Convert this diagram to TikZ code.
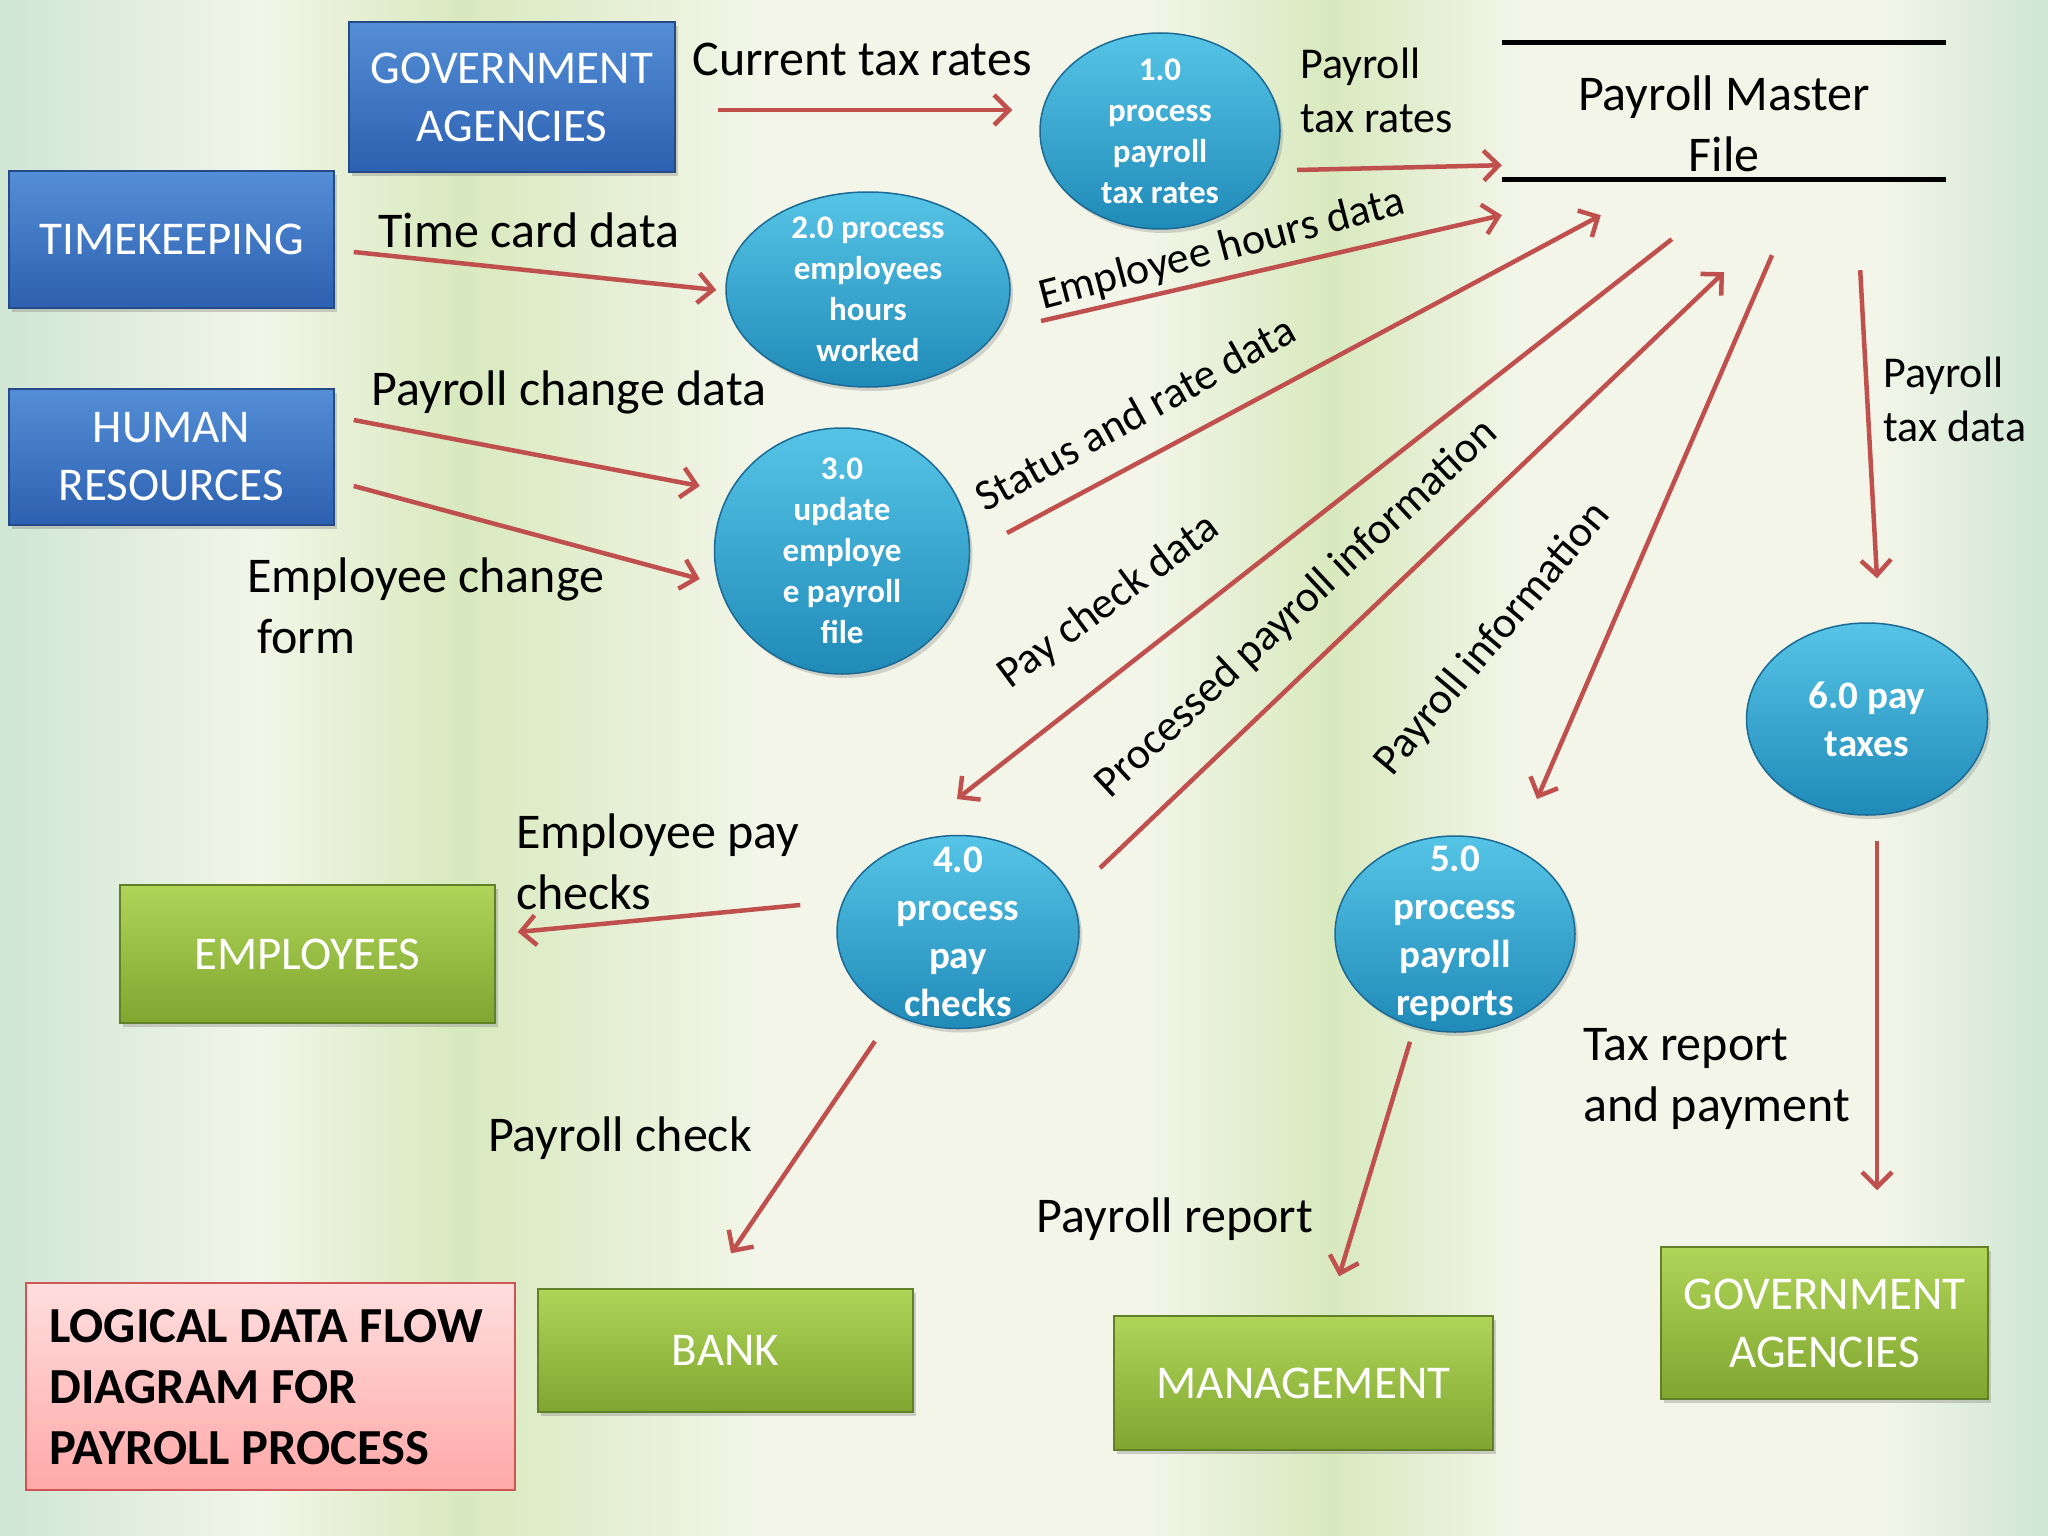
\documentclass[tikz,border=0pt]{standalone}
\usepackage{fontspec}
\setmainfont{Carlito}
\usetikzlibrary{arrows.meta,shapes.geometric,shadows}
\definecolor{flowred}{RGB}{192,80,77}
\definecolor{bluetop}{RGB}{84,142,214}
\definecolor{bluebot}{RGB}{44,96,176}
\definecolor{blueedge}{RGB}{38,74,136}
\definecolor{greentop}{RGB}{176,212,88}
\definecolor{greenbot}{RGB}{128,166,48}
\definecolor{greenedge}{RGB}{98,128,40}
\definecolor{cyantop}{RGB}{86,196,230}
\definecolor{cyanbot}{RGB}{32,138,184}
\definecolor{cyanedge}{RGB}{28,106,148}
\definecolor{pinktop}{RGB}{255,222,222}
\definecolor{pinkbot}{RGB}{255,168,168}
\definecolor{pinkedge}{RGB}{205,85,85}
\definecolor{bgbase}{RGB}{242,245,232}
\definecolor{bggreen}{RGB}{216,233,190}
\definecolor{bgteal}{RGB}{208,230,212}
\begin{document}
\begin{tikzpicture}[x=1pt,y=-1pt,
  flow/.style={draw=flowred, line width=4.5pt, -{Straight Barb[length=15pt,width=30pt]}},
  ent/.style={rectangle, inner sep=0pt, font=\fontsize{47}{58}\selectfont, text=white, align=center,
    line width=1.5pt, drop shadow={shadow xshift=3pt, shadow yshift=-4pt, opacity=.35}},
  blueent/.style={ent, top color=bluetop, bottom color=bluebot, draw=blueedge},
  greenent/.style={ent, top color=greentop, bottom color=greenbot, draw=greenedge},
  proc/.style={ellipse, inner sep=0pt, top color=cyantop, bottom color=cyanbot, draw=cyanedge,
    line width=1.5pt, drop shadow={shadow xshift=3pt, shadow yshift=-4pt, opacity=.3}},
  ptxt/.style={font=\bfseries\fontsize{33}{41}\selectfont, text=white, align=center, inner sep=0pt},
  ptxtb/.style={font=\bfseries\fontsize{39}{48}\selectfont, text=white, align=center, inner sep=0pt},
  lbl/.style={font=\fontsize{50}{61}\selectfont, text=black, inner sep=0pt, align=left},
  slbl/.style={font=\fontsize{44}{54}\selectfont, text=black, inner sep=0pt, align=left},
  storeline/.style={draw=black, line width=5pt}
]
\useasboundingbox (0,0) rectangle (2048,1536);
% background
\fill[bgbase] (0,0) rectangle (2048,1536);
\shade[left color=bgteal, right color=bgbase] (0,0) rectangle (260,1536);
\shade[left color=bgbase, right color=bggreen] (260,0) rectangle (460,1536);
\shade[left color=bggreen, right color=bgbase] (460,0) rectangle (760,1536);
\shade[left color=bgbase, right color=bggreen] (1150,0) rectangle (1330,1536);
\shade[left color=bggreen, right color=bgbase] (1330,0) rectangle (1520,1536);
\shade[left color=bgbase, right color=bgteal] (1880,0) rectangle (2048,1536);

% external entities
\node[blueent, minimum width=326pt, minimum height=150pt] (govA) at (512,97) {GOVERNMENT\\AGENCIES};
\node[blueent, minimum width=325pt, minimum height=137pt] (time) at (171.5,239.5) {TIMEKEEPING};
\node[blueent, minimum width=325pt, minimum height=136pt] (hr) at (171.5,457) {HUMAN\\RESOURCES};
\node[greenent, minimum width=375pt, minimum height=138pt] (emp) at (307.5,954) {EMPLOYEES};
\node[greenent, minimum width=375pt, minimum height=123pt] (bank) at (725.5,1350.5) {BANK};
\node[greenent, minimum width=379pt, minimum height=134pt] (mgmt) at (1303.5,1383) {MANAGEMENT};
\node[greenent, minimum width=327pt, minimum height=152pt] (govB) at (1824.5,1323) {GOVERNMENT\\AGENCIES};

% title
\node[rectangle, top color=pinktop, bottom color=pinkbot, draw=pinkedge, line width=2pt,
  minimum width=489pt, minimum height=207pt, inner sep=0pt] (title) at (270.5,1386.5) {};
\node[anchor=west, align=left, inner sep=0pt, font=\bfseries\fontsize{50.5}{61}\selectfont, text=black]
  (titletext) at (49,1387) {LOGICAL DATA FLOW\\DIAGRAM FOR\\PAYROLL PROCESS};

% processes
\node[proc, minimum width=240pt, minimum height=196pt] (p1) at (1160,131) {};
\node[ptxt] (p1t) at (p1) {1.0\\process\\payroll\\tax rates};
\node[proc, minimum width=284pt, minimum height=195pt] (p2) at (868,289.5) {};
\node[ptxt] (p2t) at (p2) {2.0 process\\employees\\hours\\worked};
\node[proc, minimum width=255pt, minimum height=246pt] (p3) at (842,551) {};
\node[ptxt] (p3t) at (p3) {3.0\\update\\employe\\e payroll\\file};
\node[proc, minimum width=242pt, minimum height=193pt] (p4) at (958,932) {};
\node[ptxtb] (p4t) at (p4) {4.0\\process\\pay\\checks};
\node[proc, minimum width=240pt, minimum height=196pt] (p5) at (1455,934) {};
\node[ptxtb] (p5t) at (p5) {5.0\\process\\payroll\\reports};
\node[proc, minimum width=241pt, minimum height=192pt] (p6) at (1867,719) {};
\node[ptxtb] (p6t) at (p6) {6.0 pay\\taxes};

% data store
\node[rectangle, minimum width=444pt, minimum height=136pt, inner sep=0pt] (mf) at (1724,111) {};
\draw[storeline] (mf.north west) -- (mf.north east);
\draw[storeline] (mf.south west) -- (mf.south east);
\node[font=\fontsize{50}{61}\selectfont, align=center, inner sep=0pt] (mft) at (1724,124) {Payroll Master\\File};

% flows
\draw[flow] ([shift={(42,13)}]govA.east) -- ([shift={(-27,-21)}]p1.west);
\draw[flow] ([shift={(137,39)}]p1.center) -- ([shift={(0,-14)}]mf.south west);
\draw[flow] ([shift={(19,12.5)}]time.east) -- ([shift={(-9,0.5)}]p2.west);
\draw[flow] ([shift={(173,31.5)}]p2.center) -- ([shift={(0,36)}]mf.south west);
\draw[flow] ([shift={(19,-37)}]hr.east) -- ([shift={(-14,-65)}]p3.west);
\draw[flow] ([shift={(19,29)}]hr.east) -- ([shift={(-14,28)}]p3.west);
\draw[flow] ([shift={(165,-18)}]p3.center) -- ([shift={(99,36)}]mf.south west);
\draw[flow] ([shift={(170,60)}]mf.south west) -- ([shift={(-1,-133)}]p4.center);
\draw[flow] ([shift={(142,-64)}]p4.center) -- ([shift={(0,93)}]mf.south);
\draw[flow] ([shift={(48,76)}]mf.south) -- ([shift={(82,-135)}]p5.center);
\draw[flow] ([shift={(-86,91)}]mf.south east) -- ([shift={(10,-44)}]p6.north);
\draw[flow] ([shift={(-36,-27)}]p4.west) -- ([shift={(22,-22)}]emp.east);
\draw[flow] ([shift={(-83,12)}]p4.south) -- ([shift={(5.5,-35)}]bank.north);
\draw[flow] ([shift={(-45,9)}]p5.south) -- ([shift={(35.5,-39)}]mgmt.north);
\draw[flow] ([shift={(10,25)}]p6.south) -- ([shift={(52.5,-56)}]govB.north);

% labels
\node[lbl, anchor=base] (l1) at (862,76) {Current tax rates};
\node[slbl, anchor=west] (l2) at (1300,90) {Payroll\\tax rates};
\node[lbl, anchor=base] (l3) at (529,247) {Time card data};
\node[lbl, anchor=base] (l5) at (569,405) {Payroll change data};
\node[lbl, anchor=west] (l6) at (247,606) {Employee change\\\hspace*{0.2em}form};
\node[slbl, rotate=14.7] (l4) at (1222,250) {Employee hours data};
\node[slbl, rotate=29] (l7) at (1135,413) {Status and rate data};
\node[slbl, rotate=36.5] (l8) at (1109,602) {Pay check data};
\node[slbl, rotate=43] (l9) at (1297,609) {Processed payroll information};
\node[slbl, rotate=50] (l10) at (1493,639) {Payroll information};
\node[slbl, anchor=west] (l11) at (1883,399) {Payroll\\tax data};
\node[lbl, anchor=west] (l12) at (516,862) {Employee pay\\checks};
\node[lbl, anchor=base] (l13) at (620,1151) {Payroll check};
\node[lbl, anchor=base] (l14) at (1175,1232) {Payroll report};
\node[lbl, anchor=west] (l15) at (1583,1079) {Tax report\\and payment};
\end{tikzpicture}
\end{document}
